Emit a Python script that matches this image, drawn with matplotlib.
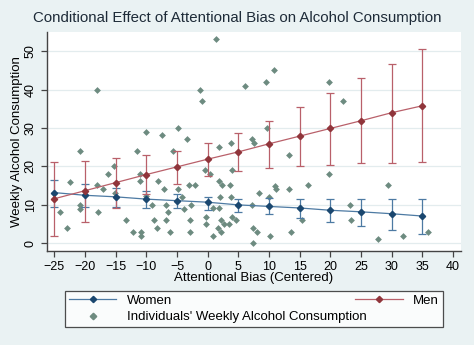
import matplotlib
matplotlib.use("Agg")
import matplotlib.pyplot as plt
from matplotlib.lines import Line2D

plt.rcParams['font.family'] = ['Liberation Sans', 'DejaVu Sans']

# predicted consumption at each level of attentional bias, with 95% CIs
bias = [-25, -20, -15, -10, -5, 0, 5, 10, 15, 20, 25, 30, 35]
women = [13.2, 12.5, 12.1, 11.5, 11.1, 10.7, 10.0, 9.6, 9.2, 8.6, 8.2, 7.7, 7.1]
women_lo = [9.5, 9.5, 9.4, 9.3, 9.1, 8.7, 8.2, 7.5, 6.6, 5.5, 4.6, 3.5, 2.4]
women_hi = [16.5, 15.4, 14.4, 13.5, 12.8, 12.1, 11.6, 11.7, 11.5, 11.5, 11.5, 11.5, 11.5]
men = [11.6, 13.7, 15.8, 17.9, 19.9, 21.9, 23.8, 25.9, 27.9, 29.9, 31.9, 34.0, 35.8]
men_lo = [1.8, 5.6, 9.3, 12.9, 15.5, 17.4, 18.7, 19.5, 20.0, 20.3, 20.8, 21.0, 21.2]
men_hi = [21.1, 21.5, 22.1, 23.0, 24.0, 26.0, 28.8, 31.9, 35.6, 39.2, 43.0, 46.6, 50.5]

# individual observations
obs_x = [-24.0, -23.0, -22.4, -20.8, -20.9, -20.9, -18.0, -18.0, -17.9, -17.0,
         -16.3, -15.2, -15.1, -13.3, -12.2, -11.5, -11.1, -11.1, -10.9, -10.9,
         -10.1, -10.1, -9.0, -8.7, -8.3, -8.1, -7.5, -7.1, -6.8, -6.5,
         -6.8, -6.1, -5.7, -4.9, -4.9, -4.2, -3.9, -3.3, -3.1, -2.1,
         -2.7, -2.9, -2.9, -1.3, -0.9, 1.3, -0.4, 0.3, -0.2, -0.2,
         0.9, 0.9, 1.9, 1.6, 2.2, 2.2, 2.7, 3.4, 3.9, 4.6,
         1.8, 3.8, 1.8, 2.3, 3.7, 3.9, 2.0, 3.8, 6.1, 9.5,
         10.8, 7.2, 7.5, 9.6, 13.2, 10.9, 11.1, 13.3, 16.3, 8.4,
         10.0, 7.3, 7.4, 8.1, 7.4, 10.1, 13.6, 15.4, 19.8, 22.1,
         19.7, 23.2, 23.3, 29.4, 27.8, 31.9, 35.9]
obs_y = [8.2, 4.0, 16.0, 24.1, 10.0, 8.9, 39.9, 15.1, 8.2, 14.1,
         18.0, 20.0, 13.1, 6.1, 3.0, 24.1, 18.0, 16.1, 3.0, 2.0,
         29.1, 12.2, 10.1, 6.1, 4.1, 16.2, 28.1, 14.1, 10.0, 8.1,
         6.1, 3.0, 24.1, 30.1, 14.1, 12.0, 9.0, 27.1, 15.2, 15.2,
         10.0, 6.1, 3.0, 40.0, 37.1, 53.2, 19.1, 18.0, 6.9, 4.9,
         2.0, 9.1, 9.1, 4.1, 3.0, 6.1, 4.9, 4.9, 6.9, 6.1,
         25.0, 26.0, 16.2, 15.2, 15.2, 19.1, 12.1, 12.1, 41.0, 42.0,
         45.1, 27.1, 26.0, 30.1, 23.1, 15.0, 14.1, 14.1, 15.1, 13.1,
         12.1, 10.0, 4.1, 3.0, 0.1, 2.0, 3.0, 6.1, 42.0, 37.1,
         18.0, 10.0, 6.1, 15.1, 1.0, 2.0, 2.9]

BG = '#eaf2f3'
NAVY = '#1a476f'
NAVY_L = '#4d7aa3'
MAROON = '#90353b'
MAROON_L = '#b9606a'
GRAY = '#6d8b80'

fig = plt.figure(figsize=(4.74, 3.45), dpi=100, facecolor=BG)
ax = fig.add_axes([47/474, 1-251/345, 414/474, 219/345])
ax.set_facecolor('white')

ax.scatter(obs_x, obs_y, marker='D', s=12, color=GRAY, linewidths=0, zorder=2)

w_err = [[m - lo for m, lo in zip(women, women_lo)], [hi - m for m, hi in zip(women, women_hi)]]
m_err = [[m - lo for m, lo in zip(men, men_lo)], [hi - m for m, hi in zip(men, men_hi)]]
ax.errorbar(bias, women, yerr=w_err, fmt='none', ecolor=NAVY_L, elinewidth=0.9,
            capsize=3, capthick=0.9, zorder=3)
ax.errorbar(bias, men, yerr=m_err, fmt='none', ecolor=MAROON_L, elinewidth=0.9,
            capsize=3, capthick=0.9, zorder=3)
ax.plot(bias, women, color=NAVY_L, lw=0.9, zorder=4)
ax.plot(bias, men, color=MAROON_L, lw=0.9, zorder=4)
ax.plot(bias, women, 'D', color=NAVY, ms=3.2, zorder=5)
ax.plot(bias, men, 'D', color=MAROON, ms=3.2, zorder=5)

ax.set_xlim(-26.2, 41.3)
ax.set_ylim(-2, 55)
ax.set_xticks(range(-25, 41, 5))
ax.set_yticks(range(0, 51, 10))
ax.grid(axis='y', color='#e3ecee', lw=0.9)
ax.set_axisbelow(True)
for s in ('top', 'right'):
    ax.spines[s].set_visible(False)
for s in ('left', 'bottom'):
    ax.spines[s].set_color('#444444')
    ax.spines[s].set_linewidth(1.0)
ax.tick_params(colors='#444444', labelcolor='black', labelsize=9, length=4, width=0.9)
plt.setp(ax.get_yticklabels(), rotation=90, va='center')

ax.set_xlabel('Attentional Bias (Centered)', fontsize=9.5, labelpad=-1)
ax.set_ylabel('Weekly Alcohol Consumption', fontsize=9.5, labelpad=1)
fig.text(0.5, 1-18/345, 'Conditional Effect of Attentional Bias on Alcohol Consumption',
         ha='center', va='center', fontsize=10.8, color='#1e2b38')

handles = [
    Line2D([], [], color=NAVY_L, lw=0.9, marker='D', ms=3.2, mfc=NAVY, mec=NAVY),
    Line2D([], [], ls='none', marker='D', ms=3.3, mfc=GRAY, mec=GRAY),
    Line2D([], [], color=MAROON_L, lw=0.9, marker='D', ms=3.2, mfc=MAROON, mec=MAROON),
]
labels = ['Women', "Individuals' Weekly Alcohol Consumption", 'Men']
# legend box spans x 65..443, y 290..328 (pixels from top)
leg = ax.legend(handles, labels, ncol=2, mode='expand',
                bbox_to_anchor=(65/474, 17/345, 378/474, 38/345),
                bbox_transform=fig.transFigure,
                loc='center', fontsize=9.5, handlelength=3.6, frameon=True,
                fancybox=False, edgecolor='#222222', facecolor='white',
                borderaxespad=0, labelspacing=0.3, borderpad=0.3)
leg.get_frame().set_linewidth(0.9)

fig.savefig('out.png', dpi=100, facecolor=BG)
